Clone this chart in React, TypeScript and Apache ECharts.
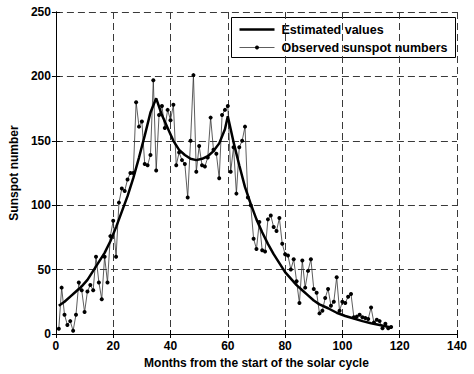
import React, { useEffect, useRef } from "react";
import * as echarts from "echarts";

// Observed monthly sunspot numbers, months 1..117
const observedValues: number[] = [
  4, 36, 15, 7, 10, 2.5, 15, 40, 34, 17,
  33, 38, 34, 60, 40, 27, 60, 40, 76, 88,
  60, 102, 113, 111, 120, 125, 125, 180, 161, 165,
  132, 131, 139, 197, 127, 170, 177, 160, 174, 166,
  178, 131, 141, 135, 132, 106, 150, 201, 126, 146,
  131, 130, 137, 168, 143, 140, 121, 170, 174, 177,
  126, 145, 109, 145, 150, 161, 106, 100, 74, 66,
  87, 65, 64, 89, 92, 83, 80, 90, 70, 62,
  61, 50, 58, 41, 24, 57, 36, 49, 58, 35,
  32, 16, 18, 28, 35, 22, 25, 44, 18, 25,
  24, 29, 31, 13, 13.5, 15, 13, 12.5, 11.6, 20.5,
  9, 11, 10, 4.5, 8, 4.5, 5.5,
];
const observedMonths: number[] = observedValues.map((_, i) => i + 1);

// Estimated (model) curve, read at selected months
const estimatedMonths: number[] = [
  1, 3, 5, 7, 9, 11, 13, 15, 17, 19, 21, 23, 25, 27, 29, 31, 33, 35,
  37, 39, 41, 43, 45, 47, 49, 51, 53, 55, 57, 59, 60,
  62, 64, 66, 68, 70, 72, 74, 76, 78, 80, 82, 84, 86, 88, 90, 92, 95,
  98, 101, 104, 107, 110, 113, 117,
];
const estimatedValues: number[] = [
  22, 25, 29, 33, 37, 42, 49, 56, 63, 72, 83, 95, 107, 121, 137, 154, 172, 183,
  170, 160, 150, 143, 139, 136, 135, 136, 138, 142, 148, 159, 169,
  149, 131, 114, 101, 89, 79, 70, 62, 55, 48, 43, 38, 34, 30, 26, 23, 20,
  16.5, 14, 12, 10, 8.3, 7, 5,
];

const legendLabels: string[] = ["Estimated values", "Observed sunspot numbers"];

const xTicks = { min: 0, max: 140, interval: 20 };
const yTicks = { min: 0, max: 250, interval: 50 };

const FONT = "'Liberation Sans', Arial, Helvetica, sans-serif";

export default function App() {
  const ref = useRef<HTMLDivElement>(null);

  useEffect(() => {
    if (!ref.current) return;
    const chart = echarts.init(ref.current, undefined, { renderer: "svg" });

    const splitLine = {
      show: true,
      lineStyle: { color: "#3a3a3a", width: 1, type: [7, 4] as number[] },
    };
    const axisLine = { show: true, lineStyle: { color: "#000", width: 1 } };
    const axisTick = { show: true, inside: true, length: 4, lineStyle: { color: "#000" } };
    const labelStyle = {
      color: "#000",
      fontFamily: FONT,
      fontWeight: "bold" as const,
      fontSize: 12,
    };

    const legendText = {
      fill: "#000",
      fontFamily: FONT,
      fontWeight: "bold",
      fontSize: 12.5,
    };

    chart.setOption({
      animation: false,
      backgroundColor: "#fff",
      grid: { left: 47, right: 17, top: 12, bottom: 40, containLabel: false },
      xAxis: [
        {
          type: "value",
          ...xTicks,
          position: "bottom",
          name: "Months from the start of the solar cycle",
          nameLocation: "middle",
          nameGap: 22,
          nameTextStyle: labelStyle,
          axisLine,
          axisTick,
          axisLabel: { ...labelStyle, margin: 6 },
          splitLine,
        },
        {
          type: "value",
          ...xTicks,
          position: "top",
          axisLine,
          axisTick,
          axisLabel: { show: false },
          splitLine: { show: false },
        },
      ],
      yAxis: [
        {
          type: "value",
          ...yTicks,
          position: "left",
          name: "Sunspot number",
          nameLocation: "middle",
          nameGap: 30,
          nameTextStyle: labelStyle,
          axisLine,
          axisTick,
          axisLabel: { ...labelStyle, margin: 5 },
          splitLine,
        },
        {
          type: "value",
          ...yTicks,
          position: "right",
          axisLine,
          axisTick,
          axisLabel: { show: false },
          splitLine: { show: false },
        },
      ],
      graphic: [
        {
          type: "group",
          left: 231,
          top: 17,
          z: 100,
          children: [
            {
              type: "rect",
              shape: { x: 0, y: 0, width: 224, height: 40 },
              style: { fill: "#fff", stroke: "#000", lineWidth: 1 },
            },
            {
              type: "line",
              shape: { x1: 8, y1: 12, x2: 43, y2: 12 },
              style: { stroke: "#000", lineWidth: 2.5 },
            },
            {
              type: "text",
              x: 50,
              y: 12,
              style: { ...legendText, text: legendLabels[0], verticalAlign: "middle" },
            },
            {
              type: "line",
              shape: { x1: 8, y1: 30, x2: 43, y2: 30 },
              style: { stroke: "#333", lineWidth: 0.8 },
            },
            {
              type: "circle",
              shape: { cx: 25.5, cy: 30, r: 2 },
              style: { fill: "#000" },
            },
            {
              type: "text",
              x: 50,
              y: 30,
              style: { ...legendText, text: legendLabels[1], verticalAlign: "middle" },
            },
          ],
        },
      ],
      series: [
        {
          name: legendLabels[1],
          type: "line",
          data: observedMonths.map((m, i) => [m, observedValues[i]]),
          symbol: "circle",
          symbolSize: 4,
          showSymbol: true,
          lineStyle: { color: "#333", width: 0.8 },
          itemStyle: { color: "#000" },
          z: 2,
        },
        {
          name: legendLabels[0],
          type: "line",
          data: estimatedMonths.map((m, i) => [m, estimatedValues[i]]),
          symbol: "none",
          lineStyle: { color: "#000", width: 2.5 },
          itemStyle: { color: "#000" },
          z: 3,
        },
      ],
    });

    return () => chart.dispose();
  }, []);

  return (
    <div
      ref={ref}
      style={{ position: "fixed", left: 0, top: 0, width: 474, height: 374 }}
    />
  );
}
